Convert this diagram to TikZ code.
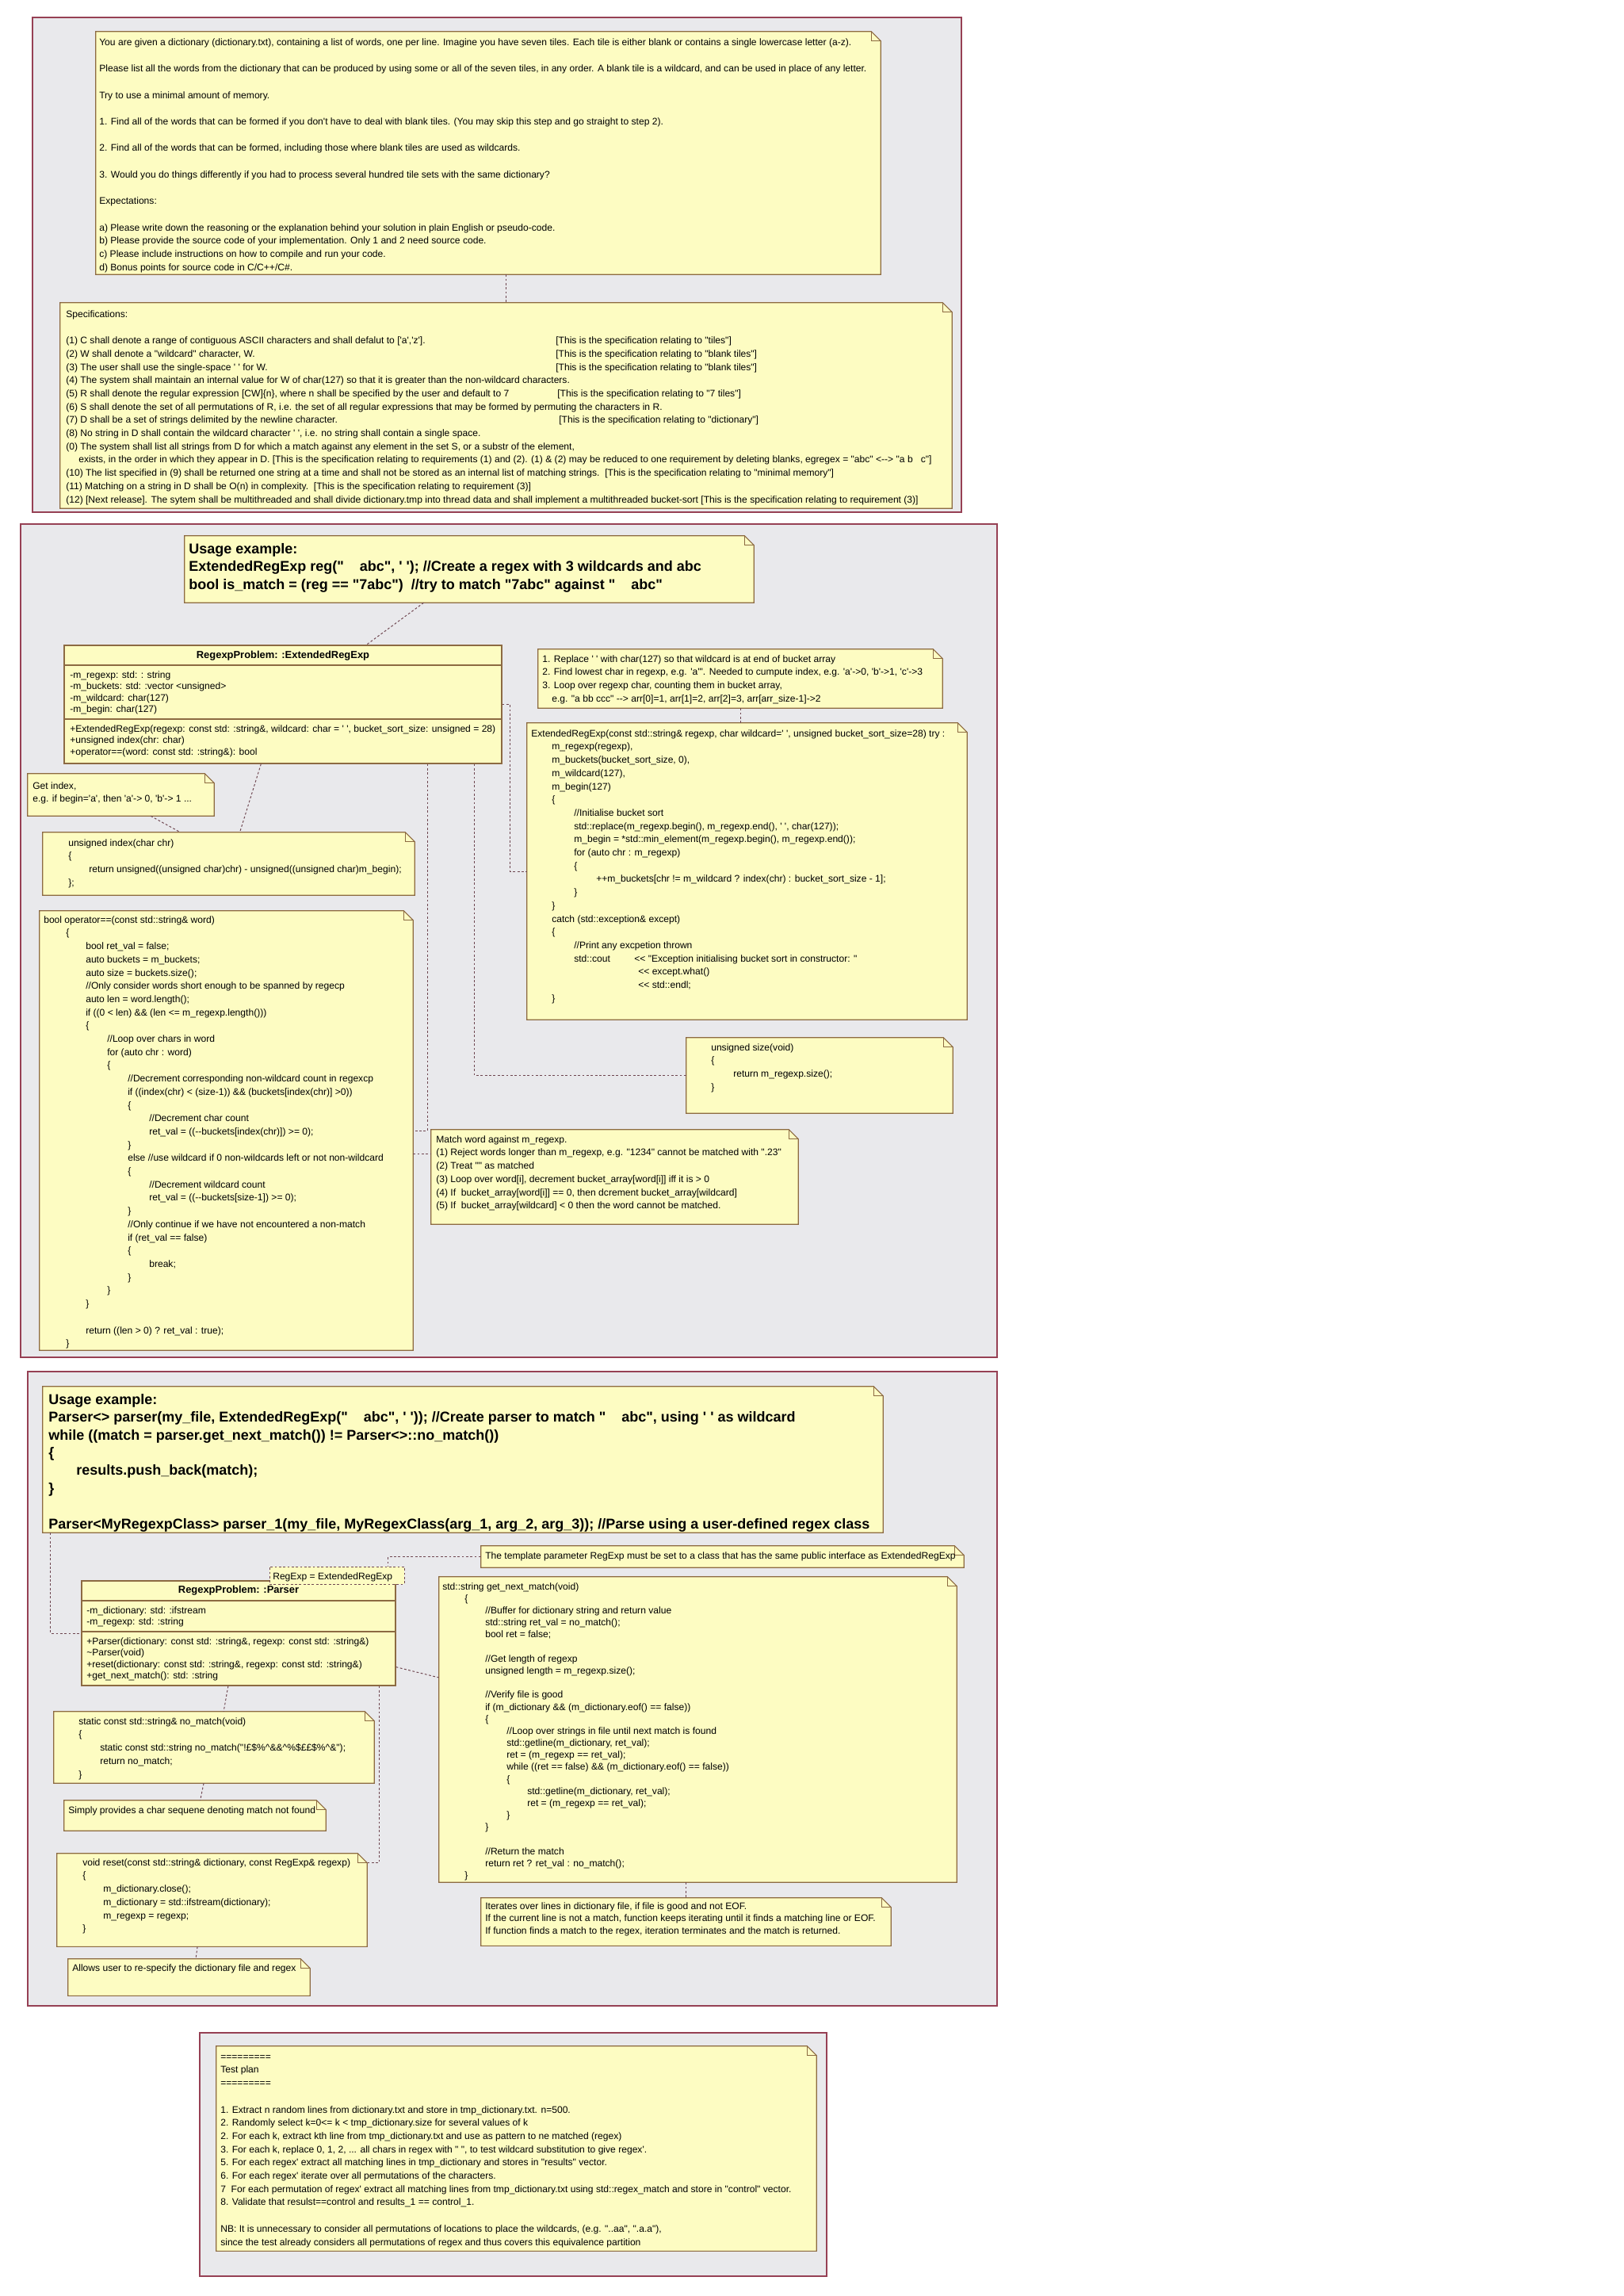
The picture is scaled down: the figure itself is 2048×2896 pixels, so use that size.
\documentclass[tikz,border=0pt]{standalone}
\usepackage{fontspec}
\newfontfamily\uifont{Liberation Sans}
\usetikzlibrary{calc,fit}
\definecolor{notefill}{RGB}{253,252,194}
\definecolor{noteedge}{RGB}{140,106,66}
\definecolor{pkgfill}{RGB}{233,233,236}
\definecolor{pkgedge}{RGB}{150,64,84}
\definecolor{linkcol}{RGB}{110,70,80}
\newlength\pxu \setlength\pxu{0.7113pt}
\newcommand{\ind}[1]{\hspace*{#1\pxu}}
\newcommand{\fold}{8.5pt}
% note with a folded corner: name, top left, bottom right
\newcommand{\umlnote}[3]{%
  \node[fit={#2 #3}, inner sep=0pt] (#1) {};
  \filldraw[notebody] (#1.north west) -- ([xshift=-\fold]#1.north east)
    -- ([yshift=-\fold]#1.north east) -- (#1.south east) -- (#1.south west) -- cycle;
  \draw[boxline] ([xshift=-\fold]#1.north east) |- ([yshift=-\fold]#1.north east);}
\begin{document}
\begin{tikzpicture}[x=0.25mm, y=-0.25mm,
    pkg/.style={fill=pkgfill, draw=pkgedge, line width=0.8pt},
    boxline/.style={draw=noteedge, line width=0.8pt},
    notebody/.style={boxline, fill=notefill},
    link/.style={draw=linkcol, line width=0.7pt, dash pattern=on 2pt off 1.8pt},
    txtbase/.style={anchor=north west, inner sep=0pt, align=left},
    txt/.style={txtbase, font=\uifont\fontsize{8.6}{11.88}\selectfont, yshift=5.5pt},
    txtgn/.style={txtbase, font=\uifont\fontsize{8.6}{10.79}\selectfont, yshift=4.7pt},
    txtit/.style={txtbase, font=\uifont\fontsize{8.6}{11}\selectfont, yshift=4.85pt},
    txtcls/.style={txtbase, font=\uifont\fontsize{8.6}{10.24}\selectfont, yshift=4.35pt},
    txtbig/.style={txtbase, font=\uifont\bfseries\fontsize{12.8}{15.93}\selectfont, yshift=6.9pt},
    clstitle/.style={inner sep=0pt, font=\uifont\bfseries\fontsize{9.2}{11}\selectfont}]
\useasboundingbox (0,0) rectangle (2048,2896);
\fill[white] (0,0) rectangle (2048,2896);

% packages
\draw[pkg] (41,22) rectangle (1213,646);
\draw[pkg] (26,661) rectangle (1258,1712);
\draw[pkg] (35,1730) rectangle (1258,2530);
\draw[pkg] (252,2564) rectangle (1043,2871);

% ---------- problem statement ----------
\umlnote{topnote}{(121,40)}{(1111,346)}
\node[txt] (topnote-t) at (125,53) {\strut You are given a dictionary (dictionary.txt), containing a list of words, one per line. Imagine you have seven tiles. Each tile is either blank or contains a single lowercase letter (a-z).\\ \mbox{}\\
Please list all the words from the dictionary that can be produced by using some or all of the seven tiles, in any order. A blank tile is a wildcard, and can be used in place of any letter.\\ \mbox{}\\
Try to use a minimal amount of memory.\\ \mbox{}\\
1. Find all of the words that can be formed if you don't have to deal with blank tiles. (You may skip this step and go straight to step 2).\\ \mbox{}\\
2. Find all of the words that can be formed, including those where blank tiles are used as wildcards.\\ \mbox{}\\
3. Would you do things differently if you had to process several hundred tile sets with the same dictionary?\\ \mbox{}\\
Expectations:\\ \mbox{}\\
a) Please write down the reasoning or the explanation behind your solution in plain English or pseudo-code.\\
b) Please provide the source code of your implementation. Only 1 and 2 need source code.\\
c) Please include instructions on how to compile and run your code.\\
d) Bonus points for source code in C/C++/C\#.};

\umlnote{specs}{(76,382)}{(1201,641)}
\node[txt] (specs-t) at (83,396) {\strut Specifications:\\ \mbox{}\\
\makebox[618\pxu][l]{(1) C shall denote a range of contiguous ASCII characters and shall defalut to ['a','z'].}[This is the specification relating to "tiles"]\\
\makebox[618\pxu][l]{(2) W shall denote a "wildcard" character, W.}[This is the specification relating to "blank tiles"]\\
\makebox[618\pxu][l]{(3) The user shall use the single-space ' ' for W.}[This is the specification relating to "blank tiles"]\\
(4) The system shall maintain an internal value for W of char(127) so that it is greater than the non-wildcard characters.\\
\makebox[620\pxu][l]{(5) R shall denote the regular expression [CW]\{n\}, where n shall be specified by the user and default to 7}[This is the specification relating to "7 tiles"]\\
(6) S shall denote the set of all permutations of R, i.e. the set of all regular expressions that may be formed by permuting the characters in R.\\
\makebox[622\pxu][l]{(7) D shall be a set of strings delimited by the newline character.}[This is the specification relating to "dictionary"]\\
(8) No string in D shall contain the wildcard character ' ', i.e. no string shall contain a single space.\\
(0) The system shall list all strings from D for which a match against any element in the set S, or a substr of the element,\\
\ind{16}exists, in the order in which they appear in D. [This is the specification relating to requirements (1) and (2). (1) \& (2) may be reduced to one requirement by deleting blanks, egregex = "abc" <--> "a b\ \ \ c"]\\
(10) The list specified in (9) shall be returned one string at a time and shall not be stored as an internal list of matching strings.\ \ [This is the specification relating to "minimal memory"]\\
(11) Matching on a string in D shall be O(n) in complexity.\ \ [This is the specification relating to requirement (3)]\\
(12) [Next release]. The sytem shall be multithreaded and shall divide dictionary.tmp into thread data and shall implement a multithreaded bucket-sort [This is the specification relating to requirement (3)]};

% ---------- ExtendedRegExp ----------
\umlnote{usage1}{(233,676)}{(951,760)}
\node[txtbig] (usage1-t) at (238,692) {\strut Usage example:\\
ExtendedRegExp reg("\ \ \ \ abc", ' '); //Create a regex with 3 wildcards and abc\\
bool is\_match = (reg == "7abc")\ \ //try to match "7abc" against "\ \ \ \ abc"};

\node[fit={(81,814) (633,963)}, inner sep=0pt, notebody] (cls1) {};
\draw[boxline] (81,839) -- (633,839);
\draw[boxline] (81,907) -- (633,907);
\node[clstitle] (cls1-name) at (357,827) {RegexpProblem: :ExtendedRegExp};
\node[txtcls] (cls1-attr) at (88,851) {\strut -m\_regexp: std: : string\\
-m\_buckets: std: :vector <unsigned>\\
-m\_wildcard: char(127)\\
-m\_begin: char(127)};
\node[txtcls] (cls1-ops) at (88,919) {\strut +ExtendedRegExp(regexp: const std: :string\&, wildcard: char = ' ', bucket\_sort\_size: unsigned = 28)\\
+unsigned index(chr: char)\\
+operator==(word: const std: :string\&): bool};

\umlnote{replace}{(679,819)}{(1189,893)}
\node[txt] (replace-t) at (684,831) {\strut 1. Replace ' ' with char(127) so that wildcard is at end of bucket array\\
2. Find lowest char in regexp, e.g. 'a'". Needed to cumpute index, e.g. 'a'->0, 'b'->1, 'c'->3\\
3. Loop over regexp char, counting them in bucket array,\\
\ind{12}e.g. "a bb ccc" --> arr[0]=1, arr[1]=2, arr[2]=3, arr[arr\_size-1]->2};

\umlnote{ctor}{(665,912)}{(1220,1286)}
\node[txt] (ctor-t) at (670,925) {\strut ExtendedRegExp(const std::string\& regexp, char wildcard=' ', unsigned bucket\_sort\_size=28) try :\\
\ind{26}m\_regexp(regexp),\\
\ind{26}m\_buckets(bucket\_sort\_size, 0),\\
\ind{26}m\_wildcard(127),\\
\ind{26}m\_begin(127)\\
\ind{26}\{\\
\ind{54}//Initialise bucket sort\\
\ind{54}std::replace(m\_regexp.begin(), m\_regexp.end(), ' ', char(127));\\
\ind{54}m\_begin = *std::min\_element(m\_regexp.begin(), m\_regexp.end());\\
\ind{54}for (auto chr : m\_regexp)\\
\ind{54}\{\\
\ind{82}++m\_buckets[chr != m\_wildcard ? index(chr) : bucket\_sort\_size - 1];\\
\ind{54}\}\\
\ind{26}\}\\
\ind{26}catch (std::exception\& except)\\
\ind{26}\{\\
\ind{54}//Print any excpetion thrown\\
\ind{54}\makebox[76\pxu][l]{std::cout}<< "Exception initialising bucket sort in constructor: "\\
\ind{135}<< except.what()\\
\ind{135}<< std::endl;\\
\ind{26}\}};

\umlnote{getidx}{(35,976)}{(270,1029)}
\node[txt] (getidx-t) at (41,991) {\strut Get index,\\
e.g. if begin='a', then 'a'-> 0, 'b'-> 1 ...};

\umlnote{index}{(54,1050)}{(523,1129)}
\node[txt] (index-t) at (86,1063) {\strut unsigned index(char chr)\\
\{\\
\ind{26}return unsigned((unsigned char)chr) - unsigned((unsigned char)m\_begin);\\
\};};

\umlnote{oper}{(50,1149)}{(521,1703)}
\node[txt] (oper-t) at (55,1160) {\strut bool operator==(const std::string\& word)\\
\ind{28}\{\\
\ind{53}bool ret\_val = false;\\
\ind{53}auto buckets = m\_buckets;\\
\ind{53}auto size = buckets.size();\\
\ind{53}//Only consider words short enough to be spanned by regecp\\
\ind{53}auto len = word.length();\\
\ind{53}if ((0 < len) \&\& (len <= m\_regexp.length()))\\
\ind{53}\{\\
\ind{80}//Loop over chars in word\\
\ind{80}for (auto chr : word)\\
\ind{80}\{\\
\ind{106}//Decrement corresponding non-wildcard count in regexcp\\
\ind{106}if ((index(chr) < (size-1)) \&\& (buckets[index(chr)] >0))\\
\ind{106}\{\\
\ind{133}//Decrement char count\\
\ind{133}ret\_val = ((--buckets[index(chr)]) >= 0);\\
\ind{106}\}\\
\ind{106}else //use wildcard if 0 non-wildcards left or not non-wildcard\\
\ind{106}\{\\
\ind{133}//Decrement wildcard count\\
\ind{133}ret\_val = ((--buckets[size-1]) >= 0);\\
\ind{106}\}\\
\ind{106}//Only continue if we have not encountered a non-match\\
\ind{106}if (ret\_val == false)\\
\ind{106}\{\\
\ind{133}break;\\
\ind{106}\}\\
\ind{80}\}\\
\ind{53}\}\\ \mbox{}\\
\ind{53}return ((len > 0) ? ret\_val : true);\\
\ind{28}\}};

\umlnote{sizenote}{(866,1309)}{(1202,1404)}
\node[txt] (sizenote-t) at (897,1321) {\strut unsigned size(void)\\
\{\\
\ind{28}return m\_regexp.size();\\
\}};

\umlnote{match}{(544,1425)}{(1007,1544)}
\node[txt] (match-t) at (550,1437) {\strut Match word against m\_regexp.\\
(1) Reject words longer than m\_regexp, e.g. "1234" cannot be matched with ".23"\\
(2) Treat "" as matched\\
(3) Loop over word[i], decrement bucket\_array[word[i]] iff it is > 0\\
(4) If\ \ bucket\_array[word[i]] == 0, then dcrement bucket\_array[wildcard]\\
(5) If\ \ bucket\_array[wildcard] < 0 then the word cannot be matched.};

% ---------- Parser ----------
\umlnote{usage2}{(54,1749)}{(1114,1933)}
\node[txtbig] (usage2-t) at (61,1765) {\strut Usage example:\\
Parser<> parser(my\_file, ExtendedRegExp("\ \ \ \ abc", ' ')); //Create parser to match "\ \ \ \ abc", using ' ' as wildcard\\
while ((match = parser.get\_next\_match()) != Parser<>::no\_match())\\
\{\\
\ind{35}results.push\_back(match);\\
\}\\ \mbox{}\\
Parser<MyRegexpClass> parser\_1(my\_file, MyRegexClass(arg\_1, arg\_2, arg\_3)); //Parse using a user-defined regex class};

\umlnote{tmpl}{(607,1950)}{(1216,1977)}
\node[txt] (tmpl-t) at (612,1962) {\strut The template parameter RegExp must be set to a class that has the same public interface as ExtendedRegExp};

\node[fit={(103,1994) (499,2126)}, inner sep=0pt, notebody] (parser) {};
\draw[boxline] (103,2019) -- (499,2019);
\draw[boxline] (103,2058) -- (499,2058);
\node[clstitle] (parser-name) at (301,2006) {RegexpProblem: :Parser};
\node[txtcls] (parser-attr) at (109,2031) {\strut -m\_dictionary: std: :ifstream\\
-m\_regexp: std: :string};
\node[txtcls] (parser-ops) at (109,2070) {\strut +Parser(dictionary: const std: :string\&, regexp: const std: :string\&)\\
\textasciitilde Parser(void)\\
+reset(dictionary: const std: :string\&, regexp: const std: :string\&)\\
+get\_next\_match(): std: :string};

\node[fit={(340,1976) (510,1998)}, inner sep=0pt, fill=notefill, draw=linkcol,
  line width=0.7pt, dash pattern=on 2pt off 1.8pt] (tparam) {};
\node[txt] (tparam-t) at (344,1988) {\strut RegExp = ExtendedRegExp};

\umlnote{getnext}{(554,1989)}{(1207,2374)}
\node[txtgn] (getnext-t) at (558,2001) {\strut std::string get\_next\_match(void)\\
\ind{28}\{\\
\ind{54}//Buffer for dictionary string and return value\\
\ind{54}std::string ret\_val = no\_match();\\
\ind{54}bool ret = false;\\ \mbox{}\\
\ind{54}//Get length of regexp\\
\ind{54}unsigned length = m\_regexp.size();\\ \mbox{}\\
\ind{54}//Verify file is good\\
\ind{54}if (m\_dictionary \&\& (m\_dictionary.eof() == false))\\
\ind{54}\{\\
\ind{81}//Loop over strings in file until next match is found\\
\ind{81}std::getline(m\_dictionary, ret\_val);\\
\ind{81}ret = (m\_regexp == ret\_val);\\
\ind{81}while ((ret == false) \&\& (m\_dictionary.eof() == false))\\
\ind{81}\{\\
\ind{107}std::getline(m\_dictionary, ret\_val);\\
\ind{107}ret = (m\_regexp == ret\_val);\\
\ind{81}\}\\
\ind{54}\}\\ \mbox{}\\
\ind{54}//Return the match\\
\ind{54}return ret ? ret\_val : no\_match();\\
\ind{28}\}};

\umlnote{iter}{(607,2394)}{(1124,2454)}
\node[txtit] (iter-t) at (612,2404) {\strut Iterates over lines in dictionary file, if file is good and not EOF.\\
If the current line is not a match, function keeps iterating until it finds a matching line or EOF.\\
If function finds a match to the regex, iteration terminates and the match is returned.};

\umlnote{nomatch}{(68,2159)}{(472,2249)}
\node[txt] (nomatch-t) at (99,2171) {\strut static const std::string\& no\_match(void)\\
\{\\
\ind{27}static const std::string no\_match("!£\$\%\textasciicircum\&\&\textasciicircum\%\$££\$\%\textasciicircum\&");\\
\ind{27}return no\_match;\\
\}};

\umlnote{simply}{(81,2271)}{(411,2309)}
\node[txt] (simply-t) at (86,2283) {\strut Simply provides a char sequene denoting match not found};

\umlnote{reset}{(72,2338)}{(463,2455)}
\node[txt] (reset-t) at (104,2349) {\strut void reset(const std::string\& dictionary, const RegExp\& regexp)\\
\{\\
\ind{26}m\_dictionary.close();\\
\ind{26}m\_dictionary = std::ifstream(dictionary);\\
\ind{26}m\_regexp = regexp;\\
\}};

\umlnote{allows}{(86,2471)}{(391,2517)}
\node[txt] (allows-t) at (91,2482) {\strut Allows user to re-specify the dictionary file and regex};

% ---------- test plan ----------
\umlnote{testplan}{(273,2581)}{(1030,2839)}
\node[txt] (testplan-t) at (278,2594) {\strut =========\\
Test plan\\
=========\\ \mbox{}\\
1. Extract n random lines from dictionary.txt and store in tmp\_dictionary.txt. n=500.\\
2. Randomly select k=0<= k < tmp\_dictionary.size for several values of k\\
2. For each k, extract kth line from tmp\_dictionary.txt and use as pattern to ne matched (regex)\\
3. For each k, replace 0, 1, 2, ... all chars in regex with " ", to test wildcard substitution to give regex'.\\
5. For each regex' extract all matching lines in tmp\_dictionary and stores in "results" vector.\\
6. For each regex' iterate over all permutations of the characters.\\
7\ \ For each permutation of regex' extract all matching lines from tmp\_dictionary.txt using std::regex\_match and store in "control" vector.\\
8. Validate that resulst==control and results\_1 == control\_1.\\ \mbox{}\\
NB: It is unnecessary to consider all permutations of locations to place the wildcards, (e.g. "..aa", ".a.a"),\\
since the test already considers all permutations of regex and thus covers this equivalence partition};

% ---------- connectors ----------
\draw[link] (topnote.south -| specs.north) -- (specs.north);
\draw[link] ($(usage1.south west)!0.42!(usage1.south east)$) -- ($(cls1.north west)!0.69!(cls1.north east)$);
\draw[link] ($(cls1.south west)!0.45!(cls1.south east)$) -- ($(index.north west)!0.53!(index.north east)$);
\draw[link] ($(getidx.south west)!0.66!(getidx.south east)$) -- ($(index.north west)!0.37!(index.north east)$);
\draw[link] ($(cls1.south west)!0.83!(cls1.south east)$) |- (oper.east);
\draw[link] ($(oper.north east)!0.554!(oper.south east)$) coordinate (om) -- (om -| match.west);
\draw[link] ($(cls1.south west)!0.937!(cls1.south east)$) |- (sizenote.west);
\draw[link] (cls1.east) -- ++(10,0) |- (ctor.west);
\draw[link] (replace.south) -- (replace.south |- ctor.north);
\draw[link] ($(usage2.south west)+(10,0)$) |- (parser.west);
\draw[link] (tmpl.west) -| ($(tparam.north west)!0.88!(tparam.north east)$);
\draw[link] ($(parser.north east)!0.82!(parser.south east)$) -- ($(getnext.north west)!0.33!(getnext.south west)$);
\draw[link] ($(parser.south west)!0.467!(parser.south east)$) -- ($(nomatch.north west)!0.53!(nomatch.north east)$);
\draw[link] ($(nomatch.south west)!0.468!(nomatch.south east)$) -- ($(simply.north west)!0.52!(simply.north east)$);
\draw[link] ($(parser.south west)!0.947!(parser.south east)$) |- ($(reset.north east)!0.1!(reset.south east)$);
\draw[link] ($(reset.south west)!0.453!(reset.south east)$) -- ($(allows.north west)!0.528!(allows.north east)$);
\draw[link] (getnext.south -| iter.north) -- (iter.north);
\end{tikzpicture}
\end{document}
